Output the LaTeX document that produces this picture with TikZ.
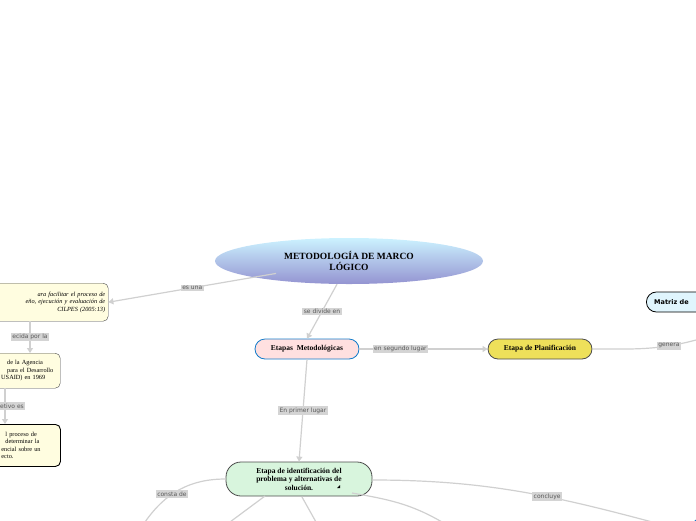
\documentclass[tikz,border=0pt]{standalone}
\usepackage{fontspec}
\setmainfont{Liberation Serif}
\setsansfont{DejaVu Sans}
\usetikzlibrary{arrows.meta,shapes.geometric}
\definecolor{lnk}{HTML}{D0D0D0}
\definecolor{lblf}{HTML}{D4D4D4}
\definecolor{noteY}{HTML}{FFFDE0}
\tikzset{
 x=1pt,y=-1pt,
 conn/.style={draw=lnk,line width=1.2pt},
 arr/.style={conn,-{Triangle[length=5pt,width=6pt,fill=lnk]}},
 lbl/.style={fill=lblf,font=\sffamily\fontsize{6}{7}\selectfont,text=black!65,inner sep=1.5pt},
 note/.style={draw=black!70,fill=noteY,rounded corners=5pt,font=\fontsize{6.3}{7.5}\selectfont,align=left,inner sep=3pt,anchor=north west},
 stage/.style={rounded corners=10pt,font=\bfseries\fontsize{7.5}{8.5}\selectfont,minimum height=20pt,align=center,line width=0.8pt},
}
\begin{document}
\begin{tikzpicture}
\useasboundingbox (0,0) rectangle (696,520);
\clip (0,0) rectangle (696,520);
% root
\node[ellipse,minimum width=268pt,minimum height=46pt,top color=blue!25!cyan!20!white,bottom color=blue!40!gray!60!white,draw=none,align=center,font=\bfseries\fontsize{9.5}{10.5}\selectfont] (root) at (349,261) {METODOLOGÍA DE MARCO\\LÓGICO};
% left notes
\node[note,minimum width=118pt,minimum height=38pt,text width=112pt,align=right] (n1) at (-10,283) {\itshape ara facilitar el proceso de\\\itshape eño, ejecución y evaluación de\\\itshape CILPES (2005:13)\hspace*{50pt}};
\node[note,minimum width=70pt,minimum height=35pt,text width=64pt] (n2) at (-10,353) {\hspace*{14pt}de la Agencia\\\hspace*{14pt}para el Desarrollo\\\hspace*{8pt}USAID) en 1969};
\node[note,draw=black,line width=0.9pt,minimum width=70pt,minimum height=42pt,text width=64pt] (n3) at (-10,424) {\hspace*{12pt}l proceso de\\\hspace*{12pt}determinar la\\\hspace*{8pt}encial sobre un\\\hspace*{8pt}ecto.};
% stages
\node[stage,draw=cyan!60!blue,fill=red!12,minimum width=104pt] (et) at (307,349) {Etapas\ \ Metodológicas};
\node[stage,draw=black!70,fill={rgb,255:red,238;green,224;blue,90},minimum width=104pt] (pl) at (540,349) {Etapa de Planificación};
\node[stage,draw=black,fill=cyan!12,minimum width=90pt,anchor=west,font=\sffamily\bfseries\fontsize{6.5}{8}\selectfont] (mz) at (646,302) {Matriz de\hspace*{40pt}};
\node[stage,draw=black!70,fill={rgb,255:red,216;green,245;blue,221},minimum width=146pt,minimum height=34pt,rounded corners=15pt] (id) at (299,479) {Etapa de identificación del\\problema y alternativas de\\solución.};
\fill[black] (337,488) -- (340,485) -- (340,488) -- cycle;
\node[circle,draw=cyan!60!blue,fill={rgb,255:red,245;green,215;blue,138},minimum size=30pt,line width=0.8pt] (br) at (705,532) {};
% connectors
\draw[arr] (root.south west) ++(22,-4) coordinate (r1) -- node[lbl,pos=0.5]{es una} (n1.east);
\draw[arr] (root.south) ++(-12,0) coordinate (r2) -- node[lbl]{se divide en} (et.north);
\coordinate (n1b) at (30,321);
\coordinate (n2t) at (30,353);
\draw[arr] (n1b) -- node[lbl]{ecida por la} (n2t);
\coordinate (n2b) at (5,388);
\coordinate (n3t) at (5,424);
\draw[arr] (n2b) -- node[lbl,xshift=7pt]{etivo es} (n3t);
\draw[arr] (et.east) -- node[lbl,pos=0.32]{en segundo lugar} (pl.west);
\draw[arr] (et.south) -- node[lbl]{En primer lugar} (id.north);
\coordinate (g1) at (696,340);
\draw[conn] (pl.east) to[out=0,in=195] node[lbl,pos=0.75]{genera} (g1);
\draw[conn] (id.east) ++(0,1) to[out=0,in=165] node[lbl,pos=0.55]{concluye} (br.west);
\coordinate (c1) at (145,522);
\draw[conn] (id.west) to[out=180,in=55] node[lbl,pos=0.6]{consta de} (c1);
\coordinate (c2) at (230,522);
\coordinate (c3) at (316,522);
\coordinate (c4) at (442,522);
\draw[conn] (265,496) -- (c2);
\draw[conn] (302,497) -- (c3);
\draw[conn] (352,493) to[out=-10,in=150] (c4);
\end{tikzpicture}
\end{document}
